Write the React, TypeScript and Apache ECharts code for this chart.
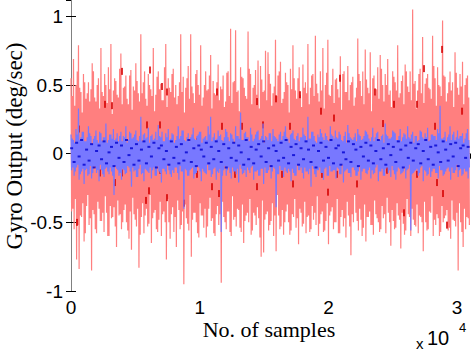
import React, { useEffect, useRef } from "react";
import * as echarts from "echarts";

// Sample range (x axis, samples) and y range
const X_MAX = 31000;
const xTicks = [0, 10000, 20000, 30000];
const yTicks = [-1, -0.5, 0, 0.5, 1];

// Raw gyro output: upper and lower swings of each short window (deg/sec)
const redHi = [
  0.55, 0.69, 0.5, 0.79, 0.45, 0.58, 0.4, 0.52, 0.47, 0.6,
  0.38, 0.55, 0.77, 0.42, 0.5, 0.63, 0.8, 0.46, 0.53, 0.41,
  0.73, 0.48, 0.57, 0.36, 0.61, 0.49, 0.66, 0.44, 0.87, 0.52,
  0.4, 0.58, 0.47, 0.77, 0.43, 0.6, 0.51, 0.39, 0.8, 0.55,
  0.45, 0.62, 0.5, 0.42, 0.87, 0.56, 0.48, 0.64, 0.87, 0.44,
  0.58, 0.5, 0.79, 0.41, 0.6, 0.47, 0.72, 0.53, 0.43, 0.65,
  0.49, 0.57, 0.38, 0.6, 0.91, 0.52, 0.9, 0.46, 0.63, 0.55,
  0.42, 0.89, 0.58, 0.48, 0.61, 0.68, 0.64, 0.45, 0.75, 0.74,
  0.51, 0.44, 0.83, 0.57, 0.67, 0.4, 0.59, 0.5, 0.62, 0.79,
  0.46, 0.55, 0.43, 0.65, 0.52, 0.8, 0.48, 0.58, 0.86, 0.44,
  0.6, 0.77, 0.5, 0.83, 0.42, 0.62, 0.54, 0.47, 0.71, 0.58,
  0.45, 0.64, 0.5, 0.56, 0.41, 0.84, 0.53, 0.6, 0.76, 0.48,
  0.74, 0.55, 0.43, 0.63, 0.72, 0.5, 0.58, 0.69, 0.46, 0.6,
  0.52, 0.79, 0.44, 0.57, 0.65, 0.49, 0.6, 1.05, 0.53, 0.46,
  0.62, 0.85, 0.51, 0.58, 0.47, 0.86, 0.55, 0.63, 0.49, 0.97,
  0.56, 0.44, 0.6, 0.52, 0.74, 0.48, 0.58, 0.67, 0.5, 0.57,
];
const redLo = [
  -0.42, -0.55, -0.77, -0.84, -0.46, -0.64, -0.38, -0.52, -0.85, -0.44,
  -0.58, -0.4, -0.49, -0.57, -0.43, -0.6, -0.47, -0.39, -0.68, -0.45,
  -0.55, -0.41, -0.5, -0.62, -0.7, -0.44, -0.53, -0.83, -0.46, -0.58,
  -0.4, -0.51, -0.65, -0.43, -0.55, -0.48, -0.6, -0.42, -0.77, -0.5,
  -0.44, -0.57, -0.68, -0.41, -0.52, -0.95, -0.47, -0.56, -0.75, -0.43,
  -0.5, -0.61, -0.45, -0.54, -0.61, -0.4, -0.49, -0.58, -0.44, -0.52,
  -0.94, -0.46, -0.55, -0.42, -0.6, -0.48, -0.53, -0.41, -0.57, -0.65,
  -0.45, -0.5, -0.59, -0.43, -0.52, -0.47, -0.75, -0.72, -0.44, -0.56,
  -0.49, -0.6, -0.71, -0.45, -0.53, -0.59, -0.42, -0.5, -0.56, -0.46,
  -0.54, -0.66, -0.43, -0.51, -0.58, -0.45, -0.55, -0.48, -0.52, -0.6,
  -0.44, -0.57, -0.49, -0.66, -0.42, -0.55, -0.5, -0.58, -0.46, -0.53,
  -0.61, -0.45, -0.74, -0.5, -0.43, -0.56, -0.48, -0.54, -0.64, -0.46,
  -0.52, -0.59, -0.44, -0.5, -0.55, -0.47, -0.58, -0.43, -0.67, -0.49,
  -0.54, -0.45, -0.69, -0.51, -0.56, -0.44, -0.6, -0.48, -0.53, -0.58,
  -0.46, -0.71, -0.5, -0.55, -0.43, -0.6, -0.52, -0.47, -0.57, -0.5,
  -0.45, -0.56, -0.62, -0.48, -0.53, -0.85, -0.5, -0.68, -0.55, -0.47,
];
// Raw gyro output: in-between samples of each window (deg/sec)
const redHiB = [
  0.42, 0.35, 0.6, 0.48, 0.3, 0.52, 0.44, 0.38, 0.66, 0.41,
  0.5, 0.33, 0.45, 0.58, 0.37, 0.47, 0.29, 0.55, 0.43, 0.62,
  0.36, 0.49, 0.4, 0.57, 0.32, 0.46, 0.53, 0.38, 0.44, 0.6,
  0.35, 0.5, 0.42, 0.31, 0.56, 0.47, 0.39, 0.63, 0.34, 0.48,
  0.58, 0.41, 0.36, 0.52, 0.45, 0.3, 0.55, 0.4, 0.49, 0.37,
  0.61, 0.43, 0.35, 0.5, 0.46, 0.57, 0.33, 0.44, 0.52, 0.39,
  0.47, 0.34, 0.59, 0.42, 0.37, 0.53, 0.45, 0.31, 0.56, 0.48,
  0.4, 0.62, 0.36, 0.5, 0.43, 0.33, 0.54, 0.46, 0.39, 0.58,
  0.35, 0.49, 0.42, 0.6, 0.37, 0.45, 0.52, 0.3, 0.47, 0.55,
  0.4, 0.63, 0.34, 0.48, 0.44, 0.36, 0.57, 0.42, 0.51, 0.38,
  0.46, 0.33, 0.59, 0.43, 0.5, 0.37, 0.55, 0.41, 0.32, 0.6,
  0.45, 0.39, 0.52, 0.35, 0.48, 0.58, 0.42, 0.36, 0.54, 0.44,
  0.31, 0.57, 0.47, 0.4, 0.62, 0.38, 0.5, 0.43, 0.34, 0.56,
  0.46, 0.41, 0.53, 0.36, 0.6, 0.45, 0.39, 0.51, 0.33, 0.58,
  0.44, 0.37, 0.55, 0.48, 0.4, 0.64, 0.35, 0.5, 0.42, 0.57,
  0.38, 0.52, 0.46, 0.34, 0.59, 0.43, 0.49, 0.36, 0.55, 0.41,
];
const redLoB = [
  -0.4, -0.33, -0.52, -0.45, -0.36, -0.58, -0.3, -0.47, -0.41, -0.55,
  -0.35, -0.49, -0.43, -0.31, -0.6, -0.38, -0.46, -0.53, -0.34, -0.44,
  -0.5, -0.37, -0.56, -0.42, -0.32, -0.48, -0.4, -0.59, -0.36, -0.45,
  -0.53, -0.3, -0.47, -0.41, -0.57, -0.35, -0.44, -0.5, -0.33, -0.62,
  -0.39, -0.46, -0.34, -0.55, -0.42, -0.37, -0.51, -0.3, -0.48, -0.43,
  -0.58, -0.36, -0.45, -0.4, -0.53, -0.32, -0.47, -0.6, -0.38, -0.44,
  -0.35, -0.5, -0.42, -0.57, -0.31, -0.46, -0.4, -0.54, -0.37, -0.49,
  -0.43, -0.33, -0.56, -0.45, -0.39, -0.61, -0.34, -0.48, -0.42, -0.52,
  -0.36, -0.45, -0.3, -0.55, -0.41, -0.5, -0.37, -0.59, -0.44, -0.33,
  -0.47, -0.4, -0.53, -0.35, -0.46, -0.57, -0.38, -0.43, -0.31, -0.51,
  -0.42, -0.56, -0.36, -0.45, -0.39, -0.5, -0.33, -0.58, -0.41, -0.47,
  -0.35, -0.53, -0.44, -0.3, -0.49, -0.4, -0.6, -0.37, -0.46, -0.42,
  -0.52, -0.34, -0.47, -0.57, -0.38, -0.44, -0.32, -0.5, -0.41, -0.55,
  -0.36, -0.48, -0.43, -0.59, -0.33, -0.46, -0.4, -0.52, -0.37, -0.45,
  -0.5, -0.35, -0.56, -0.42, -0.31, -0.48, -0.44, -0.6, -0.38, -0.47,
  -0.41, -0.54, -0.34, -0.49, -0.43, -0.36, -0.57, -0.4, -0.46, -0.52,
];

// Compensated gyro output: upper and lower swings of each window (deg/sec)
const blueHi = [
  0.14, 0.1, 0.18, 0.33, 0.12, 0.16, 0.09, 0.2, 0.13, 0.11,
  0.17, 0.08, 0.15, 0.12, 0.22, 0.1, 0.14, 0.18, 0.11, 0.09,
  0.16, 0.13, 0.2, 0.1, 0.15, 0.12, 0.17, 0.09, 0.27, 0.14,
  0.11, 0.19, 0.13, 0.1, 0.16, 0.21, 0.12, 0.09, 0.15, 0.18,
  0.11, 0.14, 0.1, 0.2, 0.13, 0.17, 0.09, 0.15, 0.12, 0.19,
  0.1, 0.14, 0.16, 0.11, 0.13, 0.2, 0.27, 0.12, 0.1, 0.17,
  0.14, 0.09, 0.18, 0.12, 0.15, 0.11, 0.2, 0.13, 0.3, 0.1,
  0.16, 0.12, 0.19, 0.09, 0.14, 0.17, 0.11, 0.22, 0.13, 0.1,
  0.15, 0.18, 0.12, 0.09, 0.16, 0.13, 0.2, 0.11, 0.14, 0.17,
  0.1, 0.15, 0.12, 0.19, 0.13, 0.27, 0.11, 0.16, 0.09, 0.14,
  0.18, 0.12, 0.15, 0.1, 0.2, 0.13, 0.17, 0.11, 0.14, 0.09,
  0.16, 0.21, 0.12, 0.1, 0.15, 0.18, 0.13, 0.11, 0.17, 0.14,
  0.09, 0.19, 0.12, 0.16, 0.1, 0.14, 0.22, 0.13, 0.11, 0.17,
  0.15, 0.1, 0.18, 0.12, 0.14, 0.2, 0.11, 0.16, 0.13, 0.09,
  0.17, 0.12, 0.15, 0.19, 0.1, 0.14, 0.13, 0.18, 0.35, 0.11,
  0.16, 0.12, 0.2, 0.14, 0.1, 0.17, 0.13, 0.15, 0.11, 0.18,
];
const blueLo = [
  -0.12, -0.16, -0.1, -0.19, -0.13, -0.22, -0.11, -0.15, -0.18, -0.09,
  -0.14, -0.2, -0.12, -0.17, -0.1, -0.15, -0.13, -0.3, -0.11, -0.16,
  -0.19, -0.12, -0.14, -0.1, -0.24, -0.13, -0.17, -0.11, -0.15, -0.2,
  -0.12, -0.14, -0.18, -0.1, -0.16, -0.13, -0.21, -0.11, -0.15, -0.12,
  -0.17, -0.14, -0.1, -0.19, -0.13, -0.4, -0.12, -0.16, -0.11, -0.18,
  -0.14, -0.1, -0.2, -0.13, -0.15, -0.12, -0.17, -0.11, -0.19, -0.14,
  -0.57, -0.12, -0.16, -0.1, -0.18, -0.13, -0.15, -0.21, -0.11, -0.14,
  -0.17, -0.12, -0.1, -0.19, -0.13, -0.16, -0.11, -0.22, -0.14, -0.12,
  -0.18, -0.1, -0.39, -0.15, -0.12, -0.17, -0.13, -0.11, -0.2, -0.14,
  -0.16, -0.12, -0.1, -0.18, -0.13, -0.15, -0.24, -0.11, -0.17, -0.12,
  -0.14, -0.19, -0.1, -0.16, -0.13, -0.12, -0.18, -0.11, -0.15, -0.21,
  -0.12, -0.14, -0.17, -0.1, -0.16, -0.13, -0.19, -0.11, -0.14, -0.12,
  -0.18, -0.15, -0.1, -0.2, -0.13, -0.16, -0.11, -0.14, -0.17, -0.12,
  -0.19, -0.1, -0.15, -0.13, -0.18, -0.11, -0.56, -0.14, -0.12, -0.16,
  -0.1, -0.2, -0.13, -0.15, -0.17, -0.11, -0.14, -0.18, -0.12, -0.16,
  -0.13, -0.1, -0.19, -0.14, -0.12, -0.17, -0.11, -0.15, -0.13, -0.18,
];
// Compensated gyro output: in-between samples of each window (deg/sec)
const blueHiB = [
  0.11, 0.08, 0.14, 0.1, 0.16, 0.09, 0.12, 0.15, 0.07, 0.13,
  0.1, 0.16, 0.09, 0.12, 0.08, 0.14, 0.11, 0.1, 0.15, 0.13,
  0.09, 0.12, 0.08, 0.16, 0.11, 0.14, 0.1, 0.13, 0.09, 0.15,
  0.12, 0.08, 0.14, 0.11, 0.1, 0.13, 0.16, 0.09, 0.12, 0.1,
  0.15, 0.08, 0.13, 0.11, 0.17, 0.1, 0.12, 0.09, 0.14, 0.11,
  0.13, 0.16, 0.08, 0.12, 0.1, 0.14, 0.09, 0.15, 0.11, 0.13,
  0.1, 0.12, 0.16, 0.09, 0.14, 0.08, 0.13, 0.11, 0.1, 0.15,
  0.12, 0.09, 0.14, 0.11, 0.16, 0.1, 0.13, 0.08, 0.12, 0.15,
  0.09, 0.13, 0.11, 0.14, 0.1, 0.16, 0.12, 0.08, 0.15, 0.11,
  0.13, 0.09, 0.12, 0.14, 0.1, 0.11, 0.16, 0.13, 0.08, 0.12,
  0.15, 0.1, 0.13, 0.09, 0.14, 0.11, 0.12, 0.16, 0.1, 0.13,
  0.08, 0.15, 0.11, 0.12, 0.09, 0.14, 0.1, 0.13, 0.16, 0.11,
  0.12, 0.09, 0.15, 0.1, 0.13, 0.08, 0.14, 0.11, 0.12, 0.16,
  0.1, 0.13, 0.09, 0.15, 0.11, 0.12, 0.14, 0.08, 0.13, 0.1,
  0.16, 0.11, 0.12, 0.09, 0.14, 0.13, 0.1, 0.15, 0.11, 0.12,
  0.09, 0.14, 0.1, 0.16, 0.12, 0.11, 0.13, 0.08, 0.15, 0.1,
];
const blueLoB = [
  -0.1, -0.13, -0.08, -0.15, -0.11, -0.12, -0.16, -0.09, -0.14, -0.1,
  -0.12, -0.08, -0.15, -0.11, -0.13, -0.1, -0.16, -0.09, -0.12, -0.14,
  -0.11, -0.15, -0.09, -0.13, -0.1, -0.12, -0.17, -0.08, -0.14, -0.11,
  -0.13, -0.1, -0.12, -0.16, -0.09, -0.14, -0.11, -0.13, -0.08, -0.15,
  -0.12, -0.1, -0.14, -0.09, -0.13, -0.11, -0.16, -0.12, -0.1, -0.15,
  -0.09, -0.13, -0.11, -0.14, -0.08, -0.12, -0.15, -0.1, -0.13, -0.11,
  -0.16, -0.09, -0.12, -0.14, -0.1, -0.13, -0.11, -0.08, -0.15, -0.12,
  -0.1, -0.14, -0.09, -0.13, -0.12, -0.16, -0.11, -0.1, -0.14, -0.08,
  -0.13, -0.11, -0.15, -0.09, -0.12, -0.1, -0.14, -0.13, -0.11, -0.16,
  -0.08, -0.12, -0.14, -0.1, -0.13, -0.11, -0.09, -0.15, -0.12, -0.1,
  -0.14, -0.11, -0.16, -0.09, -0.13, -0.12, -0.1, -0.15, -0.08, -0.13,
  -0.11, -0.14, -0.1, -0.12, -0.16, -0.09, -0.13, -0.11, -0.15, -0.1,
  -0.12, -0.14, -0.08, -0.13, -0.11, -0.16, -0.1, -0.12, -0.09, -0.15,
  -0.13, -0.11, -0.14, -0.1, -0.12, -0.08, -0.15, -0.13, -0.11, -0.14,
  -0.09, -0.12, -0.16, -0.1, -0.13, -0.11, -0.14, -0.09, -0.12, -0.15,
  -0.11, -0.13, -0.1, -0.14, -0.08, -0.12, -0.16, -0.11, -0.13, -0.1,
];

// Dark blue flecks near zero, one per window
const darkBlue = [
  0.04, -0.06, 0.08, -0.02, 0.1, -0.08, 0.03, -0.05, 0.07, -0.1,
  0.02, 0.06, -0.04, 0.09, -0.07, 0.01, 0.05, -0.09, 0.08, -0.03,
  0.06, -0.06, 0.1, -0.01, 0.04, -0.08, 0.07, -0.05, 0.03, 0.09,
  -0.07, 0.05, -0.02, 0.08, -0.1, 0.04, 0.06, -0.04, 0.02, -0.08,
  0.09, -0.03, 0.05, -0.07, 0.07, -0.05, 0.01, 0.1, -0.06, 0.04,
  -0.09, 0.06, 0.03, -0.02, 0.08, -0.07, 0.05, -0.04, 0.09, 0.02,
  -0.06, 0.07, -0.1, 0.04, -0.03, 0.08, -0.05, 0.06, 0.01, -0.08,
  0.1, -0.04, 0.05, -0.07, 0.03, 0.07, -0.02, 0.09, -0.06, 0.04,
  -0.09, 0.06, 0.02, -0.05, 0.08, -0.03, 0.1, -0.07, 0.05, -0.01,
  0.07, -0.08, 0.04, -0.04, 0.09, 0.03, -0.06, 0.06, -0.1, 0.02,
  0.08, -0.05, 0.05, -0.03, 0.1, -0.07, 0.04, 0.06, -0.08, 0.01,
  -0.04, 0.09, -0.06, 0.07, 0.03, -0.09, 0.05, -0.02, 0.08, -0.05,
  0.06, -0.07, 0.02, 0.1, -0.04, 0.04, -0.08, 0.07, -0.01, 0.05,
  -0.06, 0.09, 0.03, -0.1, 0.06, -0.03, 0.08, -0.05, 0.04, 0.07,
  -0.07, 0.02, 0.1, -0.04, 0.05, -0.08, 0.06, 0.01, -0.06, 0.09,
  0.03, -0.05, 0.07, -0.02, 0.08, -0.09, 0.04, 0.06, -0.03, 0.05,
];

// Dark red dashes: [sample, value]
const darkRed: [number, number][] = [
  [466, -0.5], [622, 0.18], [2253, -0.14], [2642, 0.36], [3186, 0.35],
  [3419, -0.21], [3963, 0.6], [3963, -0.14], [5828, -0.34], [5905, 0.21],
  [6061, -0.27], [6138, 0.61], [6915, 0.21], [6915, -0.12], [7071, 0.49],
  [7459, 0.45], [7459, -0.32], [8780, -0.36], [9790, 0.09], [9790, -0.15],
  [10956, -0.24], [11344, 0.45], [11500, -0.29], [11733, 0.2], [12743, -0.15],
  [13287, 0.2], [14452, 0.38], [14452, -0.24], [14918, 0.21], [15929, 0.4],
  [16395, -0.15], [17016, 0.2], [17249, -0.22], [17793, 0.43], [19425, 0.31],
  [19503, -0.15], [19969, -0.28], [20435, 0.26], [20668, -0.15], [20901, 0.55],
  [22222, -0.22], [23621, 0.45], [24242, 0.22], [24553, -0.12], [25097, 0.36],
  [25874, -0.43], [26884, 0.36], [26884, -0.15], [27428, 0.62], [28283, 0.2],
  [28438, -0.21], [28827, 0.76], [28904, -0.29], [29215, -0.52], [30381, 0.31],
];

function zigzag(hi: number[], lo: number[], hiB: number[], loB: number[]): [number, number][] {
  const step = X_MAX / hi.length;
  const out: [number, number][] = [];
  for (let i = 0; i < hi.length; i++) {
    const x0 = i * step;
    out.push([x0, hi[i]]);
    out.push([x0 + step / 4, lo[i]]);
    out.push([x0 + step / 2, hiB[i]]);
    out.push([x0 + (3 * step) / 4, loB[i]]);
  }
  return out;
}

export default function App() {
  const ref = useRef<HTMLDivElement>(null);
  useEffect(() => {
    document.body.style.margin = "0";
    if (!ref.current) return;
    const chart = echarts.init(ref.current, undefined, { renderer: "svg" });
    const stepB = X_MAX / darkBlue.length;
    const labelFont = { fontFamily: "Liberation Sans", fontSize: 19, color: "#000" };
    const axisLineStyle = { color: "#808080", width: 1 };
    const tickStyle = { color: "#000", width: 1 };
    chart.setOption({
      animation: false,
      backgroundColor: "#fff",
      grid: { left: 71, right: 4, top: -2, bottom: 61, show: false },
      xAxis: [
        {
          type: "value",
          min: 0,
          max: X_MAX,
          interval: 10000,
          position: "bottom",
          axisLine: { show: true, lineStyle: axisLineStyle },
          axisTick: { show: true, inside: true, length: 5, lineStyle: tickStyle },
          splitLine: { show: false },
          axisLabel: {
            ...labelFont,
            margin: 7,
            showMaxLabel: false,
            formatter: (v: number) => (xTicks.includes(v) ? String(v / 10000) : ""),
          },
        },
        {
          type: "value",
          min: 0,
          max: X_MAX,
          interval: 10000,
          position: "top",
          axisLine: { show: true, lineStyle: axisLineStyle },
          axisTick: { show: true, inside: true, length: 5, lineStyle: tickStyle },
          splitLine: { show: false },
          axisLabel: { show: false },
        },
      ],
      yAxis: [
        {
          type: "value",
          min: -1,
          max: 1.12,
          interval: 0.5,
          position: "left",
          axisLine: { show: true, lineStyle: axisLineStyle },
          axisTick: { show: true, inside: true, length: 5, lineStyle: tickStyle },
          splitLine: { show: false },
          axisLabel: {
            ...labelFont,
            margin: 8,
            showMaxLabel: false,
            formatter: (v: number) => (yTicks.includes(v) ? String(v) : ""),
          },
        },
        {
          type: "value",
          min: -1,
          max: 1.12,
          interval: 0.5,
          position: "right",
          axisLine: { show: true, lineStyle: axisLineStyle },
          axisTick: { show: true, inside: true, length: 5, lineStyle: tickStyle },
          splitLine: { show: false },
          axisLabel: { show: false },
        },
      ],
      series: [
        {
          type: "line",
          data: zigzag(redHi, redLo, redHiB, redLoB),
          symbol: "none",
          lineStyle: { color: "#ff7f7f", width: 1.2 },
          z: 2,
        },
        {
          type: "scatter",
          data: darkRed,
          symbol: "rect",
          symbolSize: [2, 7],
          itemStyle: { color: "#d40000" },
          z: 3,
        },
        {
          type: "line",
          data: zigzag(blueHi, blueLo, blueHiB, blueLoB),
          symbol: "none",
          lineStyle: { color: "#7878ff", width: 1.2 },
          z: 4,
        },
        {
          type: "scatter",
          data: darkBlue.map((v, i) => [i * stepB + stepB / 4, v]),
          symbol: "rect",
          symbolSize: [3, 2],
          itemStyle: { color: "#0000d0" },
          z: 5,
        },
      ],
      graphic: [
        {
          type: "text",
          x: 14,
          y: 146,
          rotation: Math.PI / 2,
          style: {
            text: "Gyro Output (deg/sec)",
            font: '23px "Liberation Serif"',
            fill: "#000",
            textAlign: "center",
            textVerticalAlign: "middle",
          },
        },
        {
          type: "text",
          x: 269,
          y: 329,
          style: {
            text: "No. of samples",
            font: '22px "Liberation Serif"',
            fill: "#000",
            textAlign: "center",
            textVerticalAlign: "middle",
          },
        },
        {
          type: "text",
          x: 416,
          y: 343,
          style: { text: "x", font: '15px "Liberation Sans"', fill: "#000", textVerticalAlign: "middle" },
        },
        {
          type: "text",
          x: 427,
          y: 338,
          style: { text: "10", font: '20px "Liberation Sans"', fill: "#000", textVerticalAlign: "middle" },
        },
        {
          type: "text",
          x: 459,
          y: 327,
          style: { text: "4", font: '13px "Liberation Sans"', fill: "#000", textVerticalAlign: "middle" },
        },
      ],
    });
    return () => chart.dispose();
  }, []);
  return <div ref={ref} style={{ width: 474, height: 352 }} />;
}
